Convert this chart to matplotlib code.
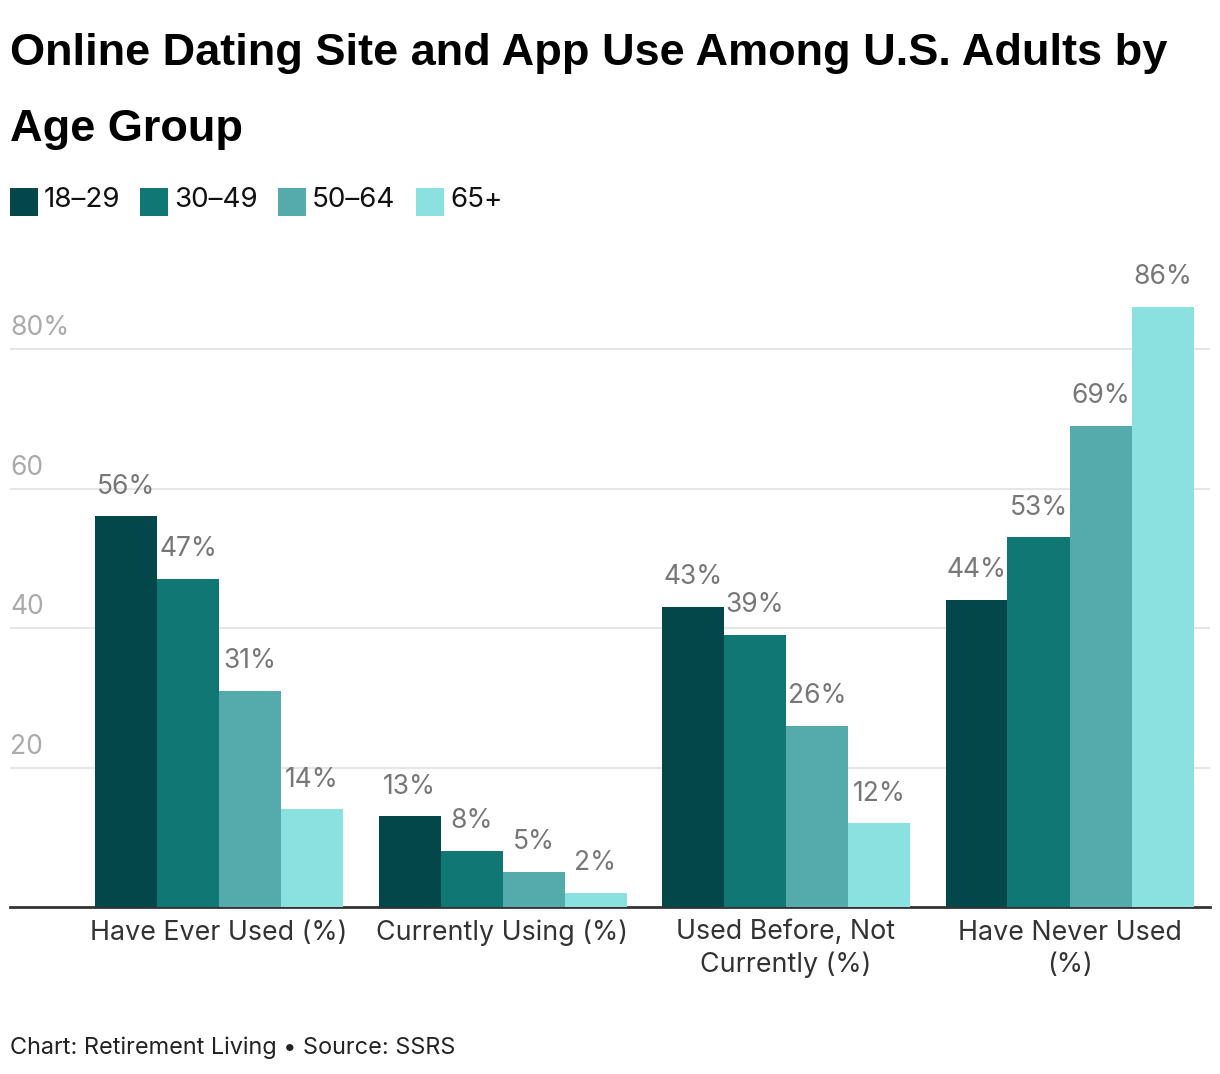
import matplotlib
matplotlib.use("Agg")
import matplotlib.pyplot as plt
from matplotlib.patches import Rectangle
import numpy as np

categories = ["Have Ever Used (%)", "Currently Using (%)", "Used Before, Not\nCurrently (%)", "Have Never Used\n(%)"]
series_names = ["18–29", "30–49", "50–64", "65+"]
values = {
    "18–29": [56, 13, 43, 44],
    "30–49": [47, 8, 39, 53],
    "50–64": [31, 5, 26, 69],
    "65+":   [14, 2, 12, 86],
}
colors = ["#03474A", "#107775", "#55ABAB", "#8BE1E0"]
yticks = [20, 40, 60, 80]
ytick_labels = ["20", "40", "60", "80%"]

W, H = 1220, 1074
fig = plt.figure(figsize=(W / 100, H / 100), dpi=100)
ax = fig.add_axes([10 / W, (H - 907) / H, 1200 / W, (907 - 279) / H])

bw = 62 / 283.5
x = np.arange(len(categories))
for i, name in enumerate(series_names):
    xs = x + (i - 1.5) * bw
    ax.bar(xs, values[name], width=bw, color=colors[i], zorder=3, linewidth=0)
    for xi, v in zip(xs, values[name]):
        ax.text(xi, v + 2.4, f"{v}%", ha="center", va="bottom", fontsize=19,
                color="#777777", family="Inter", zorder=4)

ax.set_xlim(-209 / 283.5, (1210 - 219) / 283.5)
ax.set_ylim(0, (907 - 279) / 6.975)
ax.set_yticks(yticks)
ax.yaxis.grid(True, color="#e6e6e6", linewidth=1.5, zorder=0)
ax.tick_params(axis="y", length=0, labelleft=False)
for t, lab in zip(yticks, ytick_labels):
    ax.text(0.0, t + 1.1, lab, transform=ax.get_yaxis_transform(), ha="left", va="bottom",
            fontsize=19, color="#aaaaaa", family="Inter")

ax.set_xticks(x)
ax.set_xticklabels(categories, fontsize=19.3, color="#333333", family="Inter", linespacing=1.31)
ax.tick_params(axis="x", length=0, pad=9)
for s in ["top", "right", "left"]:
    ax.spines[s].set_visible(False)
ax.spines["bottom"].set_color("#333333")
ax.spines["bottom"].set_linewidth(2)
ax.set_facecolor("white")

# Title
fig.text(10 / W, 1 - 53 / H, "Online Dating Site and App Use Among U.S. Adults by",
         fontsize=32.5, fontweight="bold", family="Liberation Sans", va="center", ha="left", color="black")
fig.text(10 / W, 1 - 129 / H, "Age Group",
         fontsize=32.5, fontweight="bold", family="Liberation Sans", va="center", ha="left", color="black")

# Legend
leg_x = [10, 140, 278, 416]
for lx, name, c in zip(leg_x, series_names, colors):
    fig.patches.append(Rectangle((lx / W, 1 - 216 / H), 28 / W, 28 / H, transform=fig.transFigure,
                                 facecolor=c, edgecolor="none"))
    fig.text((lx + 34) / W, 1 - 200 / H, name, fontsize=20, family="Inter",
             va="center", ha="left", color="#111111")

# Footer
fig.text(10 / W, 1 - 1048 / H, "Chart: Retirement Living • Source: SSRS", fontsize=16.9,
         family="Inter", va="center", ha="left", color="#222222")

fig.savefig("out.png", dpi=100, facecolor="white")
